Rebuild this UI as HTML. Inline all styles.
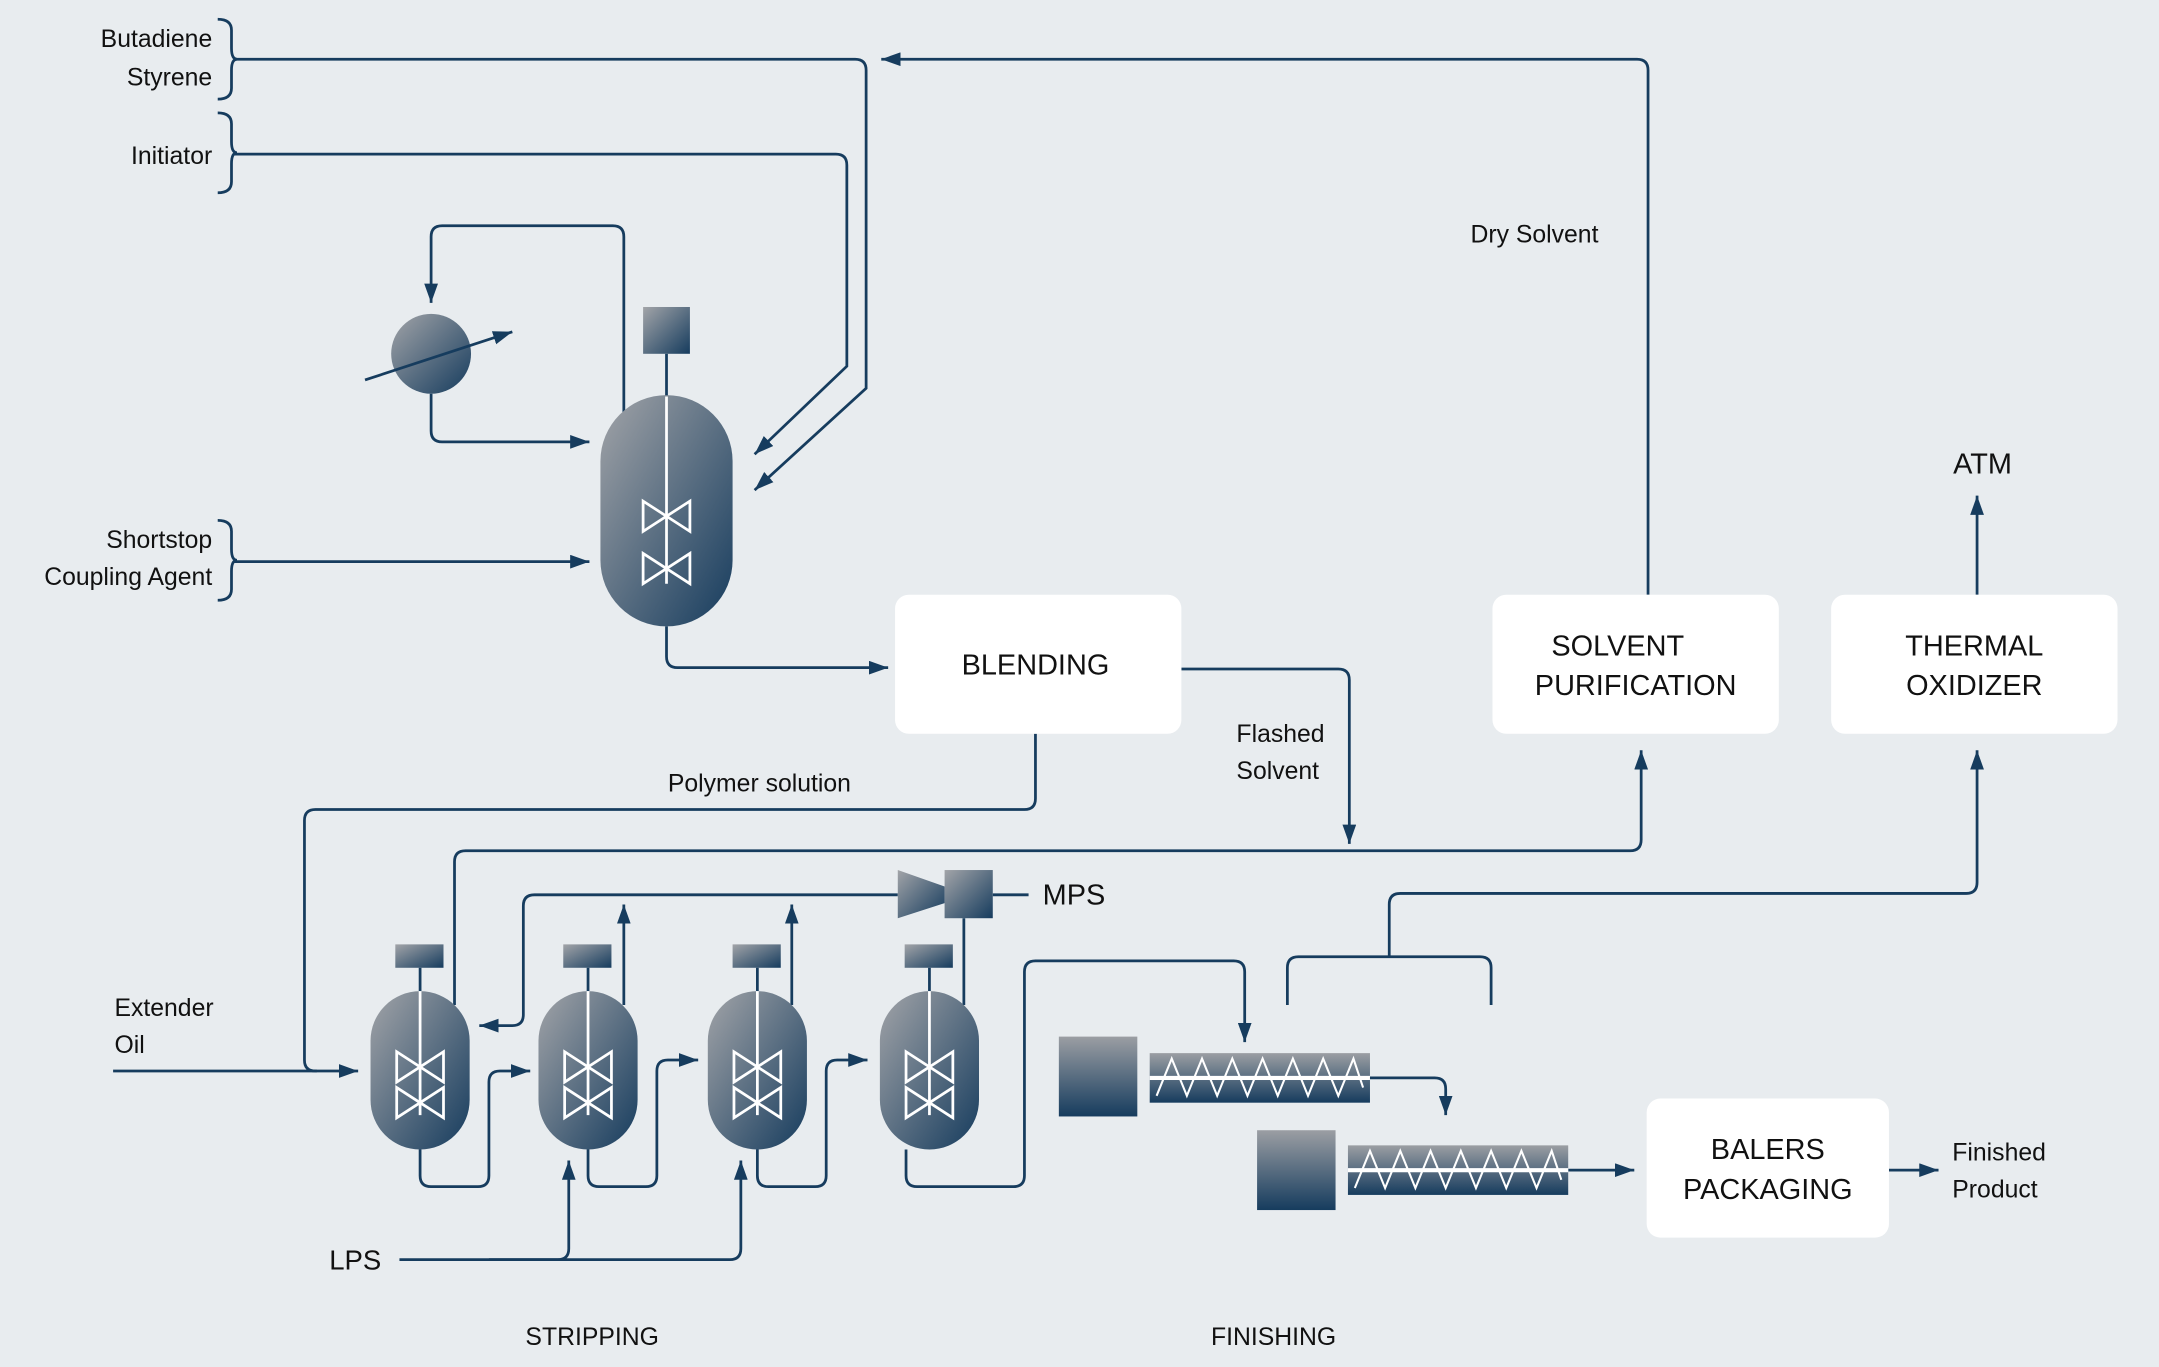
<!DOCTYPE html>
<html><head><meta charset="utf-8"><style>
html,body{margin:0;padding:0;background:#e8ecef;}
svg{display:block}
text{font-family:"Liberation Sans",sans-serif;fill:#111;}
</style></head><body>
<svg width="2159" height="1367" viewBox="0 0 1568 993" xmlns="http://www.w3.org/2000/svg">
<defs>
<linearGradient id="g" x1="0" y1="0" x2="1" y2="1"><stop offset="0" stop-color="#a2a4a8"/><stop offset="1" stop-color="#163c5e"/></linearGradient>
<linearGradient id="gv" x1="0" y1="0" x2="0" y2="1"><stop offset="0" stop-color="#9b9ea3"/><stop offset="1" stop-color="#163c5e"/></linearGradient>
<marker id="a" viewBox="0 0 14 10" refX="14" refY="5" markerWidth="14" markerHeight="10" markerUnits="userSpaceOnUse" orient="auto"><path d="M0,0 L14,5 L0,10 z" fill="#163c5e"/></marker>
<g id="agi"><path d="M-17,-11 L17,11 L17,-11 L-17,11 Z" fill="none" stroke="#fff" stroke-width="2"/></g>
</defs>
<rect width="1568" height="993" fill="#e8ecef"/>
<g fill="none" stroke="#163c5e" stroke-width="2">
<path d="M158,14 q10,0 10,8 v13 q0,8 4,8 q-4,0 -4,8 v13 q0,8 -10,8"/>
<path d="M158,82 q10,0 10,8 v13 q0,8 4,8 q-4,0 -4,8 v13 q0,8 -10,8"/>
<path d="M158,378 q10,0 10,8 v13 q0,8 4,8 q-4,0 -4,8 v13 q0,8 -10,8"/>
<path d="M170,43 H621 q8,0 8,8 V282 L548,356" marker-end="url(#a)"/>
<path d="M170,112 H607 q8,0 8,8 V266 L548,330" marker-end="url(#a)"/>
<path d="M1197,432 V51 q0,-8 -8,-8 H640" marker-end="url(#a)"/>
<path d="M170,408 H428" marker-end="url(#a)"/>
<path d="M453,300 V172 q0,-8 -8,-8 H321 q-8,0 -8,8 V220" marker-end="url(#a)"/>
<path d="M313,286 V313 q0,8 8,8 H428" marker-end="url(#a)"/>
<path d="M484,455 V477 q0,8 8,8 H645" marker-end="url(#a)"/>
<path d="M484,257 V290"/>
<path d="M858,486 H972 q8,0 8,8 V613" marker-end="url(#a)"/>
<path d="M752,533 V580 q0,8 -8,8 H229 q-8,0 -8,8 V770 q0,8 8,8 H260" marker-end="url(#a)"/>
<path d="M82,778 H230"/>
<path d="M330,730 V626 q0,-8 8,-8 H1184 q8,0 8,-8 V545" marker-end="url(#a)"/>
<path d="M652,650 H388 q-8,0 -8,8 V737 q0,8 -8,8 H348" marker-end="url(#a)"/>
<path d="M721,650 H747"/>
<path d="M700,667 V730"/>
<path d="M453,730 V657" marker-end="url(#a)"/>
<path d="M575,730 V657" marker-end="url(#a)"/>
<path d="M305,835 V854 q0,8 8,8 H347 q8,0 8,-8 V786 q0,-8 8,-8 H385" marker-end="url(#a)"/>
<path d="M427,835 V854 q0,8 8,8 H469 q8,0 8,-8 V778 q0,-8 8,-8 H507" marker-end="url(#a)"/>
<path d="M550,835 V854 q0,8 8,8 H592 q8,0 8,-8 V778 q0,-8 8,-8 H630" marker-end="url(#a)"/>
<path d="M658,835 V854 q0,8 8,8 H736 q8,0 8,-8 V706 q0,-8 8,-8 H896 q8,0 8,8 V757" marker-end="url(#a)"/>
<path d="M290,915 H530 q8,0 8,-8 V843" marker-end="url(#a)"/>
<path d="M355,915 H405 q8,0 8,-8 V843" marker-end="url(#a)"/>
<path d="M995,783 H1042 q8,0 8,8 V810" marker-end="url(#a)"/>
<path d="M1139,850 H1187" marker-end="url(#a)"/>
<path d="M1372,850 H1408" marker-end="url(#a)"/>
<path d="M935,730 V703 q0,-8 8,-8 H1075 q8,0 8,8 V730"/>
<path d="M1009,695 V657 q0,-8 8,-8 H1428 q8,0 8,-8 V545" marker-end="url(#a)"/>
<path d="M1436,432 V360" marker-end="url(#a)"/>
</g>
<rect x="467" y="223" width="34" height="34" fill="url(#g)"/>
<rect x="436" y="287" width="96" height="168" rx="48" fill="url(#g)"/>
<line x1="484" y1="288" x2="484" y2="424" stroke="#fff" stroke-width="2"/>
<use href="#agi" x="484" y="375"/><use href="#agi" x="484" y="413"/>
<circle cx="313" cy="257" r="29" fill="url(#g)"/>
<path d="M265,276 L372,241" stroke="#163c5e" stroke-width="2" fill="none" marker-end="url(#a)"/>
<g>
<rect x="287" y="686" width="35" height="17" fill="url(#g)"/><line x1="305" y1="703" x2="305" y2="720" stroke="#163c5e" stroke-width="2"/>
<rect x="269" y="720" width="72" height="115" rx="36" fill="url(#g)"/>
<line x1="305" y1="720" x2="305" y2="810" stroke="#fff" stroke-width="2"/>
<use href="#agi" x="305" y="775"/><use href="#agi" x="305" y="801"/>
</g>
<g transform="translate(122,0)">
<rect x="287" y="686" width="35" height="17" fill="url(#g)"/><line x1="305" y1="703" x2="305" y2="720" stroke="#163c5e" stroke-width="2"/>
<rect x="269" y="720" width="72" height="115" rx="36" fill="url(#g)"/>
<line x1="305" y1="720" x2="305" y2="810" stroke="#fff" stroke-width="2"/>
<use href="#agi" x="305" y="775"/><use href="#agi" x="305" y="801"/>
</g>
<g transform="translate(245,0)">
<rect x="287" y="686" width="35" height="17" fill="url(#g)"/><line x1="305" y1="703" x2="305" y2="720" stroke="#163c5e" stroke-width="2"/>
<rect x="269" y="720" width="72" height="115" rx="36" fill="url(#g)"/>
<line x1="305" y1="720" x2="305" y2="810" stroke="#fff" stroke-width="2"/>
<use href="#agi" x="305" y="775"/><use href="#agi" x="305" y="801"/>
</g>
<g transform="translate(370,0)">
<rect x="287" y="686" width="35" height="17" fill="url(#g)"/><line x1="305" y1="703" x2="305" y2="720" stroke="#163c5e" stroke-width="2"/>
<rect x="269" y="720" width="72" height="115" rx="36" fill="url(#g)"/>
<line x1="305" y1="720" x2="305" y2="810" stroke="#fff" stroke-width="2"/>
<use href="#agi" x="305" y="775"/><use href="#agi" x="305" y="801"/>
</g>
<path d="M652,632 L686,644 V656 L652,667 Z" fill="url(#g)"/>
<rect x="686" y="632" width="35" height="35" fill="url(#g)"/>
<rect x="769" y="753" width="57" height="58" fill="url(#gv)"/>
<rect x="835" y="765" width="160" height="36" fill="url(#gv)"/>
<line x1="835" y1="783" x2="995" y2="783" stroke="#fff" stroke-width="3"/>
<path d="M840,796 L851,769 L862,796 L873,769 L884,796 L895,769 L906,796 L917,769 L928,796 L939,769 L950,796 L961,769 L972,796 L983,769 L990,790" fill="none" stroke="#fff" stroke-width="1.5"/>
<rect x="913" y="821" width="57" height="58" fill="url(#gv)"/>
<rect x="979" y="832" width="160" height="36" fill="url(#gv)"/>
<line x1="979" y1="850" x2="1139" y2="850" stroke="#fff" stroke-width="3"/>
<path d="M984,863 L995,836 L1006,863 L1017,836 L1028,863 L1039,836 L1050,863 L1061,836 L1072,863 L1083,836 L1094,863 L1105,836 L1116,863 L1127,836 L1134,857" fill="none" stroke="#fff" stroke-width="1.5"/>
<rect x="650" y="432" width="208" height="101" rx="10" fill="#fff"/>
<rect x="1084" y="432" width="208" height="101" rx="10" fill="#fff"/>
<rect x="1330" y="432" width="208" height="101" rx="10" fill="#fff"/>
<rect x="1196" y="798" width="176" height="101" rx="10" fill="#fff"/>
<g font-size="21" text-anchor="middle">
<text x="752" y="490">BLENDING</text>
<text x="1175" y="476">SOLVENT</text><text x="1188" y="505">PURIFICATION</text>
<text x="1434" y="476">THERMAL</text><text x="1434" y="505">OXIDIZER</text>
<text x="1284" y="842">BALERS</text><text x="1284" y="871">PACKAGING</text>
<text x="1440" y="344">ATM</text>
<text x="780" y="657">MPS</text>
</g>
<g font-size="18">
<text x="154" y="34" text-anchor="end">Butadiene</text>
<text x="154" y="62" text-anchor="end">Styrene</text>
<text x="154" y="119" text-anchor="end">Initiator</text>
<text x="154" y="398" text-anchor="end">Shortstop</text>
<text x="154" y="425" text-anchor="end">Coupling Agent</text>
<text x="1068" y="176">Dry Solvent</text>
<text x="898" y="539">Flashed</text><text x="898" y="566">Solvent</text>
<text x="485" y="575">Polymer solution</text>
<text x="83" y="738">Extender</text><text x="83" y="765">Oil</text>
<text x="1418" y="843">Finished</text><text x="1418" y="870">Product</text>
<text x="239" y="922" font-size="20">LPS</text>
<text x="430" y="977" text-anchor="middle">STRIPPING</text>
<text x="925" y="977" text-anchor="middle">FINISHING</text>
</g>
</svg>
</body></html>
